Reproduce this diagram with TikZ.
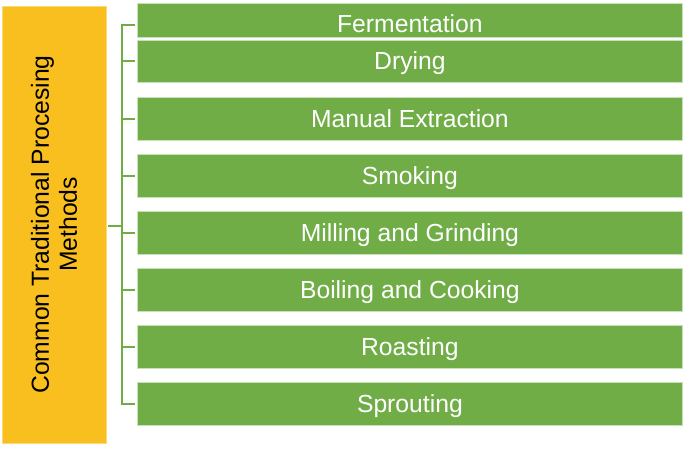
\documentclass[tikz,border=0pt]{standalone}
\usepackage{fontspec}
\setmainfont{Liberation Sans}
\definecolor{methodgreen}{RGB}{112,173,71}
\definecolor{methodedge}{RGB}{200,226,184}
\definecolor{headyellow}{RGB}{249,191,31}
\begin{document}
\begin{tikzpicture}[
    x=1pt, y=-1pt,
    head/.style={rectangle, fill=headyellow, draw=headyellow!60!white, line width=0.6pt, rotate=90, minimum width=437pt, minimum height=104pt, align=center, font=\fontsize{24.7}{28}\selectfont},
    method/.style={rectangle, fill=methodgreen, draw=methodedge, line width=0.8pt, minimum width=544.5pt, minimum height=42.7pt, text=white, text height=18pt, text depth=1.4pt, font=\fontsize{24.7}{28}\selectfont},
    bracket/.style={draw=methodgreen, line width=2.2pt}
]
\useasboundingbox (0,0) rectangle (685,448);

% Heading
\node[head] (methods) at (54,224.5) {Common Traditional Procesing\\Methods};

% Methods
\node[method, minimum height=34.4pt] (ferm) at (409.9,20.5) {};
\node[text=white, text height=18pt, text depth=1.4pt, font=\fontsize{24.7}{28}\selectfont] (fermtext) at (409.9,24.5) {Fermentation};
\node[method] (drying) at (409.9,61.3) {Drying};
\node[method] (extract) at (409.9,118.7) {Manual Extraction};
\node[method] (smoking) at (409.9,175.7) {Smoking};
\node[method] (milling) at (409.9,232.7) {Milling and Grinding};
\node[method] (boiling) at (409.9,289.7) {Boiling and Cooking};
\node[method] (roasting) at (409.9,346.7) {Roasting};
\node[method] (sprout) at (409.9,403.7) {Sprouting};

% Bracket
\coordinate (top) at (121.7,25);
\coordinate (hub) at (121.7,226);
\coordinate (topend) at (135,25);
\draw[bracket] (topend) -- (top) -- (sprout.west -| top) -- ([xshift=-2.7pt]sprout.west);
\draw[bracket, shorten >=2pt] (hub) -- (methods.south |- hub);
\draw[bracket, shorten >=2.7pt] (drying.west -| top) -- (drying.west);
\draw[bracket, shorten >=2.7pt] (extract.west -| top) -- (extract.west);
\draw[bracket, shorten >=2.7pt] (smoking.west -| top) -- (smoking.west);
\draw[bracket, shorten >=2.7pt] (milling.west -| top) -- (milling.west);
\draw[bracket, shorten >=2.7pt] (boiling.west -| top) -- (boiling.west);
\draw[bracket, shorten >=2.7pt] (roasting.west -| top) -- (roasting.west);

\end{tikzpicture}
\end{document}
